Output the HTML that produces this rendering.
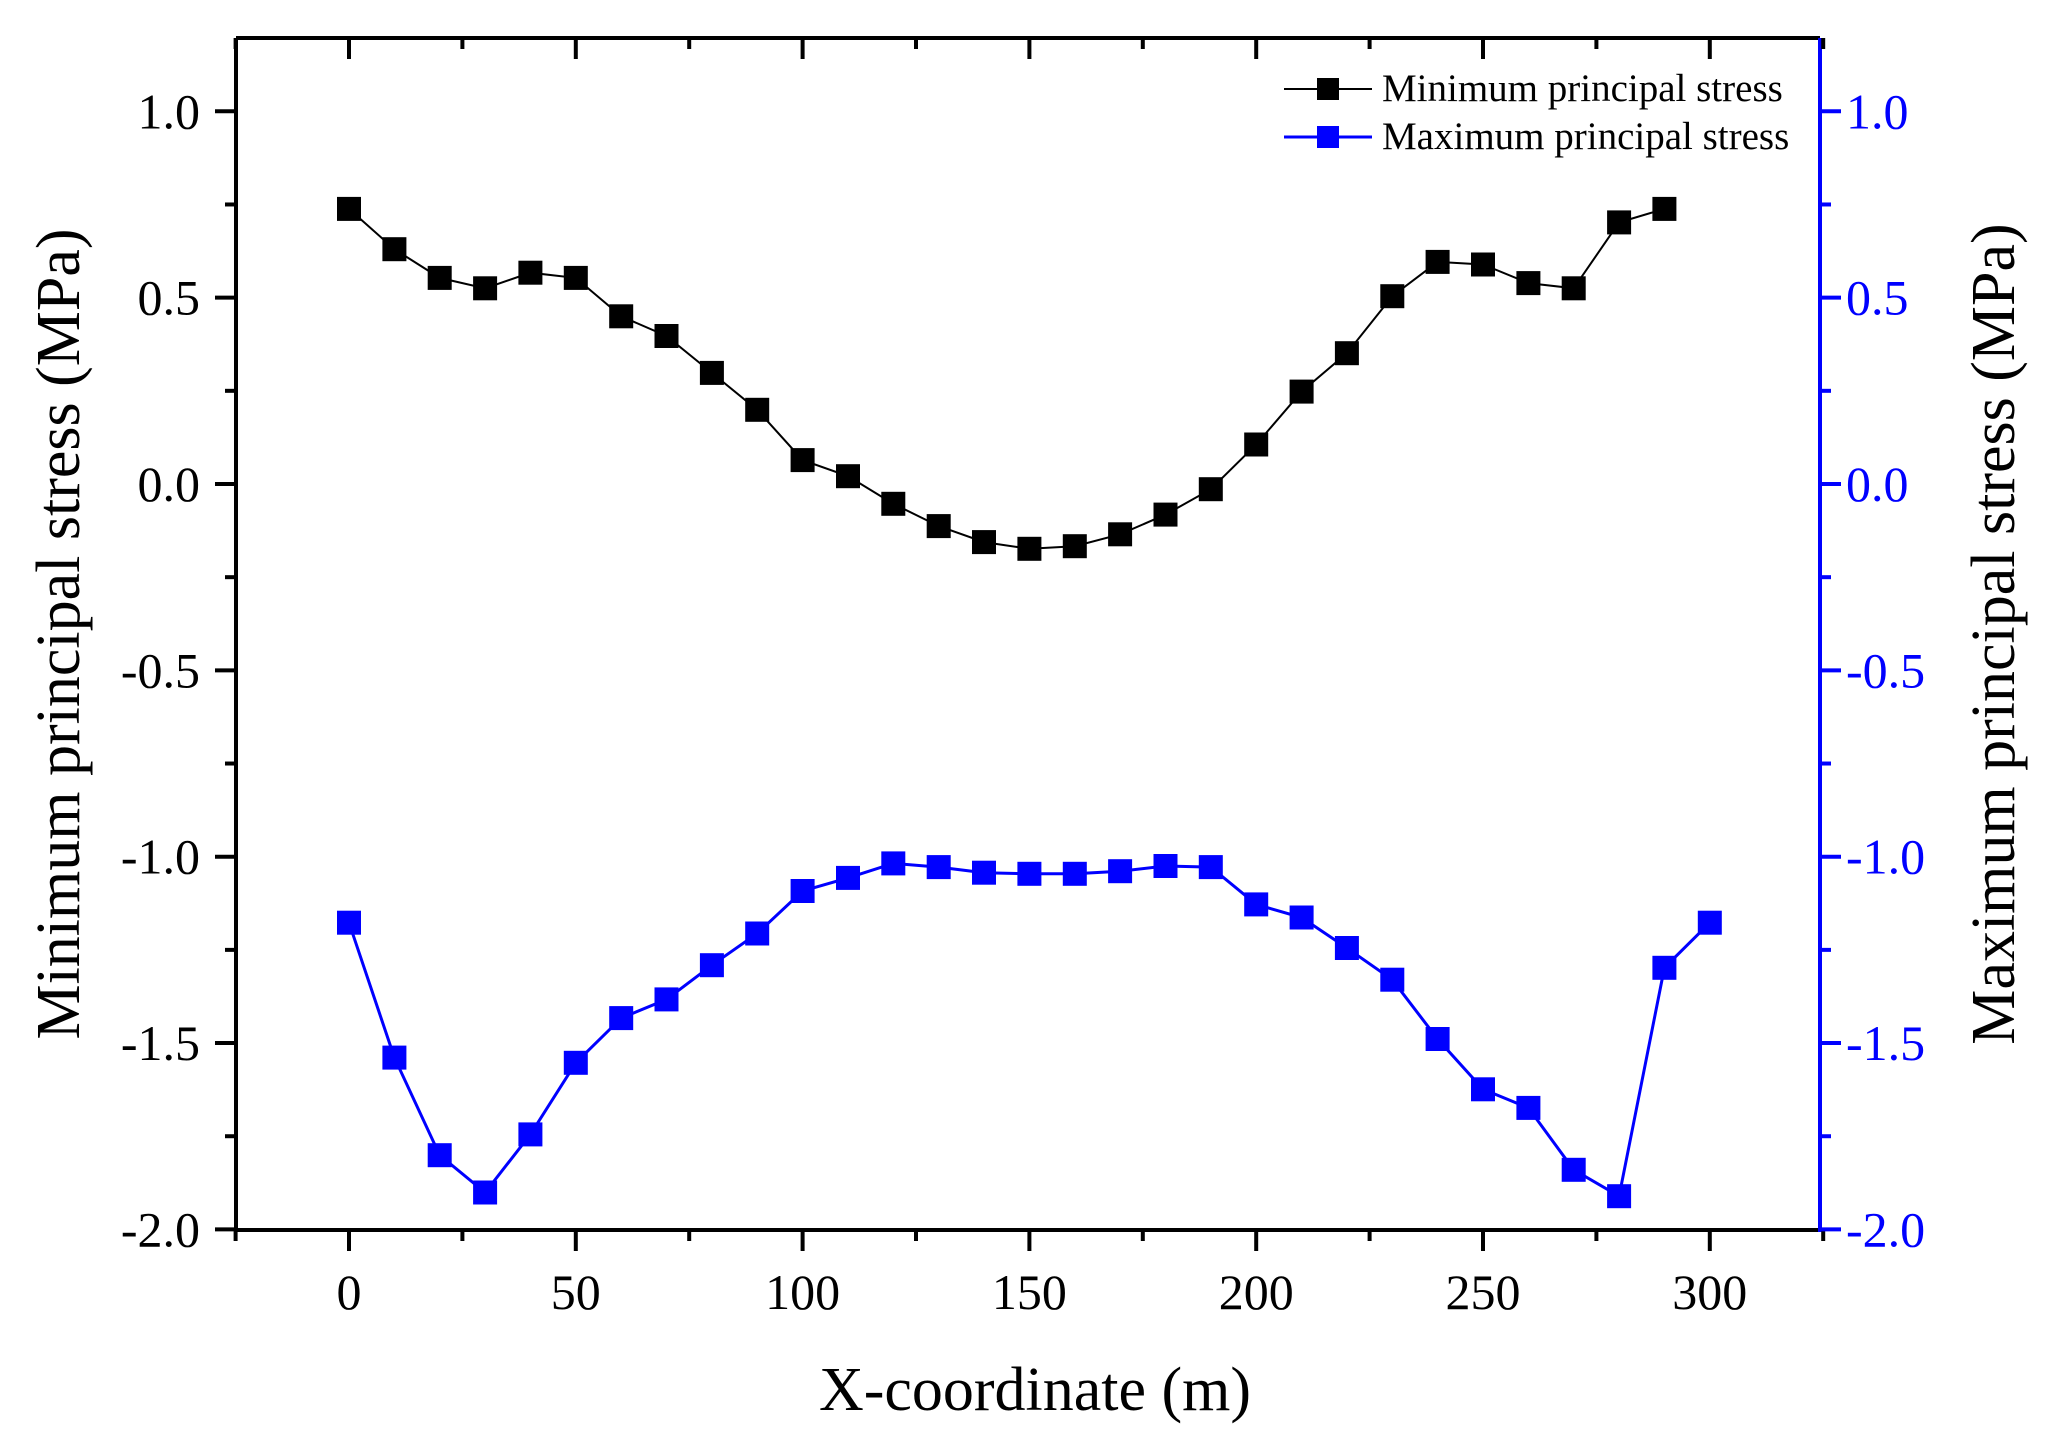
<!DOCTYPE html>
<html><head><meta charset="utf-8"><style>html,body{margin:0;padding:0;background:#fff}svg{display:block}</style></head>
<body>
<svg id="s" width="2059" height="1442" viewBox="0 0 2059 1442" xmlns="http://www.w3.org/2000/svg" font-family="Liberation Serif, serif"></svg>
<script>
const s=document.getElementById('s');
const X=v=>349+v*4.536, Y=v=>484-v*372.7;
const R=1820;
let h='';
const B=[0.738,0.63,0.553,0.525,0.567,0.553,0.45,0.397,0.298,0.199,0.064,0.021,-0.053,-0.113,-0.156,-0.174,-0.167,-0.135,-0.082,-0.014,0.106,0.248,0.351,0.504,0.596,0.589,0.539,0.525,0.702,0.738];
const U=[-1.177,-1.539,-1.801,-1.901,-1.745,-1.553,-1.433,-1.383,-1.291,-1.206,-1.092,-1.057,-1.018,-1.028,-1.043,-1.046,-1.046,-1.039,-1.025,-1.028,-1.128,-1.163,-1.245,-1.330,-1.489,-1.624,-1.674,-1.840,-1.911,-1.298,-1.177];
function series(d,c,w){let p=d.map((v,i)=>X(i*10).toFixed(1)+','+Y(v).toFixed(1)).join(' ');
h+=`<polyline points="${p}" fill="none" stroke="${c}" stroke-width="${w}"/>`;
d.forEach((v,i)=>{h+=`<rect x="${(X(i*10)-12).toFixed(1)}" y="${(Y(v)-12).toFixed(1)}" width="24" height="24" fill="${c}"/>`;});}
series(B,'#000',2);series(U,'#0000ff',3);
h+=`<path d="M236,38H${R}M236,38V1230H${R}" fill="none" stroke="#000" stroke-width="4"/>`;
h+=`<line x1="${R}" y1="38" x2="${R}" y2="1232" stroke="#0000ff" stroke-width="4"/>`;
for(let v=-25;v<=325;v+=25){const x=X(v),maj=v%50==0;
h+=`<line x1="${x}" y1="1230" x2="${x}" y2="${1230+(maj?21:11)}" stroke="#000" stroke-width="4"/>`;
h+=`<line x1="${x}" y1="38" x2="${x}" y2="${38+(maj?21:11)}" stroke="#000" stroke-width="4"/>`;
if(maj&&v>=0&&v<=300)h+=`<text x="${x}" y="1309" font-size="50" text-anchor="middle">${v}</text>`;}
for(let k=-8;k<=4;k++){const v=k*0.25,y=Y(v),maj=k%2==0;
h+=`<line x1="236" y1="${y}" x2="${236-(maj?21:11)}" y2="${y}" stroke="#000" stroke-width="4"/>`;
h+=`<line x1="${R}" y1="${y}" x2="${R+(maj?21:11)}" y2="${y}" stroke="#0000ff" stroke-width="4"/>`;
if(maj){const t=v.toFixed(1);
h+=`<text x="200" y="${y+17}" font-size="50" text-anchor="end">${t}</text>`;
h+=`<text x="${R+26}" y="${y+17}" font-size="50" fill="#0000ff">${t}</text>`;}}
h+=`<text x="1035" y="1410" font-size="62" text-anchor="middle">X-coordinate (m)</text>`;
h+=`<text transform="translate(79,634) rotate(-90)" font-size="62" text-anchor="middle">Minimum principal stress (MPa)</text>`;
h+=`<text transform="translate(2014,634) rotate(-90)" font-size="62" text-anchor="middle">Maximum principal stress (MPa)</text>`;
h+=`<line x1="1284" y1="89" x2="1372" y2="89" stroke="#000" stroke-width="2"/><rect x="1317" y="78" width="22" height="22" fill="#000"/>`;
h+=`<text x="1382" y="101" font-size="39">Minimum principal stress</text>`;
h+=`<line x1="1284" y1="137" x2="1372" y2="137" stroke="#0000ff" stroke-width="3"/><rect x="1317" y="126" width="22" height="22" fill="#0000ff"/>`;
h+=`<text x="1382" y="149" font-size="39">Maximum principal stress</text>`;
s.innerHTML=h;
</script>
</body></html>
